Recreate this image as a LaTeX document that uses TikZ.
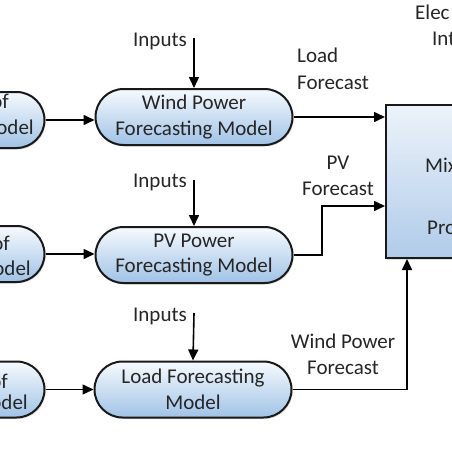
\documentclass[tikz,border=0pt]{standalone}
\usepackage{fontspec}
\setmainfont{Carlito}
\usetikzlibrary{arrows.meta,shapes.misc,shadows,calc}
\definecolor{txt}{RGB}{38,38,38}
\definecolor{nodetop}{RGB}{246,250,254}
\definecolor{nodebot}{RGB}{160,194,230}
\definecolor{boxtop}{RGB}{236,243,250}
\definecolor{boxbot}{RGB}{176,203,233}
\tikzset{
  model/.style={rounded rectangle, draw=black!90, line width=2pt,
    top color=nodetop, bottom color=nodebot,
    drop shadow={opacity=0.25, shadow xshift=1.2pt, shadow yshift=-1.5pt},
    minimum width=197pt, minimum height=56pt, inner sep=0pt,
    align=center, text=txt, font=\fontsize{21}{25.5}\selectfont},
  mixbox/.style={rectangle, draw=black!90, line width=2pt,
    top color=boxtop, bottom color=boxbot,
    drop shadow={opacity=0.25, shadow xshift=1.2pt, shadow yshift=-1.5pt},
    minimum width=90pt, minimum height=153pt, inner sep=0pt},
  lbl/.style={text=txt, inner sep=0pt, font=\fontsize{21}{26.5}\selectfont},
  arr/.style={line width=1.6pt, -{Triangle[length=11pt,width=10pt]}},
  plain/.style={line width=1.6pt}
}
\begin{document}
\begin{tikzpicture}[x=1pt,y=-1pt]
\useasboundingbox (0,0) rectangle (452,452);
\fill[white] (0,0) rectangle (452,452);
\clip (0,0) rectangle (452,452);

% left (cut) models
\node[model, text width=0pt] (l1) at (-54,120) {};
\node[model, text width=0pt] (l2) at (-54,254) {};
\node[model, text width=0pt] (l3) at (-54,389.5) {};
\node[lbl, anchor=east] (l1a) at (9,101) {of};
\node[lbl, anchor=east] (l1b) at (34,127) {Model};
\node[lbl, anchor=east] (l2a) at (10,243) {of};
\node[lbl, anchor=east] (l2b) at (31,268) {Model};
\node[lbl, anchor=east] (l3a) at (8,381) {of};
\node[lbl, anchor=east] (l3b) at (28,402) {Model};

% forecasting models
\node[model] (wind) at (194,117) {Wind Power\\Forecasting Model};
\node[model] (pv) at (194,255) {PV Power\\Forecasting Model};
\node[model] (load) at (193,389.5) {Load Forecasting\\Model};

% mix box
\node[mixbox] (box) at (431,181.5) {};
\node[lbl, anchor=west] (mix) at (425,165) {Mix};
\node[lbl, anchor=west] (pro) at (427,228) {Pro};
\node[lbl, anchor=west] (elec) at (415,12) {Elec};
\node[lbl, anchor=west] (int) at (432,39) {Int};

% inputs
\coordinate (in1) at (194,38);
\coordinate (in2) at (194,180);
\coordinate (in3) at (194,313);
\node[lbl, anchor=east] (inp1) at (187,41) {Inputs};
\node[lbl, anchor=east] (inp2) at (187,182) {Inputs};
\node[lbl, anchor=east] (inp3) at (187,316) {Inputs};
\draw[arr] (in1) -- (wind.north);
\draw[arr] (in2) -- (pv.north);
\draw[arr] (in3) -- (load.north);

% left to models
\draw[arr] (l1.east) -- (l1.east -| wind.west);
\draw[arr] (l2.east) -- (l2.east -| pv.west);
\draw[arr] (l3.east) -- (l3.east -| load.west);

% outputs
\draw[arr] (wind.east) -- (wind.east -| box.west);
\draw[arr] (pv.east) -| (322,230) |- (box.west |- 0,206);
\draw[arr] (load.east) -| (407,0 |- box.south);

% output labels
\node[lbl, align=left, anchor=west] (lf) at (297,69) {Load\\Forecast};
\node[lbl, align=center] (pvf) at (338,176) {PV\\Forecast};
\node[lbl, align=center] (wf) at (343,354.5) {Wind Power\\Forecast};
\end{tikzpicture}
\end{document}
